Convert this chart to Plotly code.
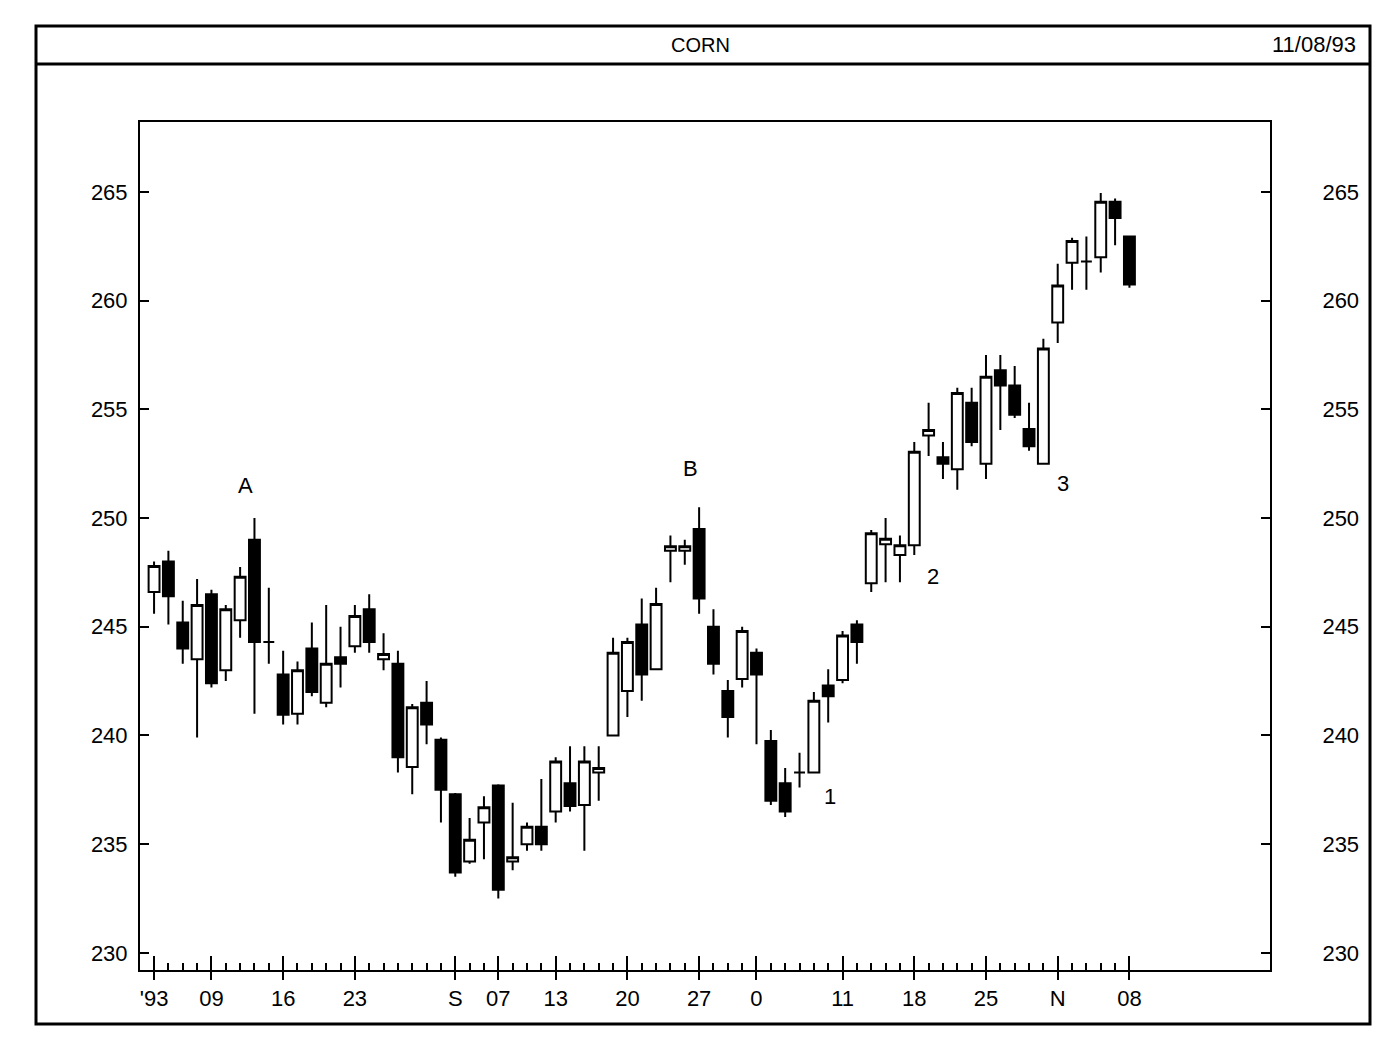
import plotly.graph_objects as go

# Trading-day index (0 = first session shown, 68 = 11/08/93)
day_index = list(range(69))

opens = [246.6, 248.0, 245.2, 243.5, 246.5, 243.0, 245.3, 249.0, 244.3, 242.8,
         241.0, 244.0, 241.5, 243.6, 244.1, 245.8, 243.5, 243.3, 238.55, 241.5,
         239.8, 237.3, 234.2, 236.0, 237.7, 234.2, 235.0, 235.8, 236.5, 237.8,
         236.8, 238.3, 240.0, 242.05, 245.1, 243.05, 248.5, 248.5, 249.5, 245.0,
         242.05, 242.6, 243.8, 239.75, 237.8, 238.3, 238.3, 242.3, 242.55, 245.1,
         247.0, 248.8, 248.3, 248.75, 253.8, 252.8, 252.25, 255.3, 252.5, 256.8,
         256.1, 254.1, 252.5, 259.0, 261.75, 261.8, 262.0, 264.55, 262.95]
highs = [248.0, 248.5, 246.2, 247.2, 246.7, 246.0, 247.75, 250.0, 246.8, 243.9,
         243.4, 245.2, 246.0, 245.0, 246.0, 246.5, 244.7, 243.9, 241.45, 242.5,
         239.9, 237.35, 236.2, 237.2, 237.75, 236.9, 236.0, 238.0, 239.0, 239.5,
         239.5, 239.5, 244.5, 244.5, 246.3, 246.8, 249.2, 249.0, 250.5, 245.8,
         242.55, 245.0, 244.0, 240.25, 238.5, 239.2, 242.0, 243.05, 244.8, 245.3,
         249.45, 250.0, 249.2, 253.5, 255.3, 253.5, 256.0, 256.0, 257.5, 257.5,
         257.0, 255.3, 258.25, 261.7, 262.9, 262.95, 264.95, 264.7, 263.0]
lows = [245.6, 245.1, 243.3, 239.9, 242.2, 242.5, 244.5, 241.0, 243.3, 240.5,
        240.5, 241.8, 241.3, 242.2, 243.8, 243.8, 243.0, 238.3, 237.3, 239.6,
        236.0, 233.5, 234.1, 234.3, 232.5, 233.8, 234.7, 234.7, 236.0, 236.5,
        234.7, 237.0, 239.95, 240.85, 241.6, 243.0, 247.05, 247.85, 245.6, 242.8,
        239.9, 242.2, 239.6, 236.8, 236.25, 237.6, 238.25, 240.6, 242.4, 243.3,
        246.6, 247.05, 247.05, 248.3, 252.85, 251.8, 251.3, 253.3, 251.8, 254.05,
        254.6, 253.1, 252.45, 258.05, 260.5, 260.5, 261.3, 262.55, 260.6]
closes = [247.8, 246.4, 244.0, 246.0, 242.4, 245.8, 247.3, 244.3, 244.3, 240.95,
          243.0, 242.0, 243.3, 243.3, 245.5, 244.3, 243.75, 239.0, 241.3, 240.5,
          237.5, 233.7, 235.2, 236.7, 232.9, 234.4, 235.8, 235.0, 238.8, 236.75,
          238.8, 238.5, 243.8, 244.3, 242.8, 246.05, 248.7, 248.7, 246.3, 243.3,
          240.85, 244.8, 242.8, 237.0, 236.5, 238.3, 241.6, 241.8, 244.6, 244.3,
          249.3, 249.05, 248.75, 253.05, 254.05, 252.5, 255.75, 253.5, 256.5, 256.1,
          254.75, 253.3, 257.8, 260.7, 262.75, 261.8, 264.55, 263.8, 260.75]

tick_days = [0, 4, 9, 14, 21, 24, 28, 33, 38, 42, 48, 53, 58, 63, 68]
tick_labels = ["'93", "09", "16", "23", "S", "07", "13", "20", "27", "0", "11", "18", "25", "N", "08"]
price_ticks = [230, 235, 240, 245, 250, 255, 260, 265]

marker_labels = ["A", "B", "1", "2", "3"]
marker_x = [6.35, 37.4, 47.1, 54.3, 63.4]
marker_y = [251.5, 252.3, 237.2, 247.3, 251.6]

FONT = "Liberation Sans, Arial, sans-serif"
FS = 22

fig = go.Figure()
fig.add_trace(go.Candlestick(
    x=day_index, open=opens, high=highs, low=lows, close=closes,
    increasing=dict(line=dict(color="black", width=2), fillcolor="white"),
    decreasing=dict(line=dict(color="black", width=2), fillcolor="black"),
    whiskerwidth=0, showlegend=False, hoverinfo="skip",
))
# invisible trace to activate the right-hand price axis and overlay tick axis
fig.add_trace(go.Scatter(x=[None], y=[None], yaxis="y2", xaxis="x2", showlegend=False))

for t, xx, yy in zip(marker_labels, marker_x, marker_y):
    fig.add_annotation(x=xx, y=yy, text=t, showarrow=False, yanchor="middle",
                       font=dict(family=FONT, size=FS, color="black"))

OFF = 8  # default page body margin
L, R, T, B = 140, 1270, 122, 970   # plot area in page pixels
W, H = 1399 - 2 * OFF, 1047 - 2 * OFF
pw, ph = R - L, B - T
def px(X): return (X - L) / pw
def py(Y): return (B - Y) / ph

fig.add_shape(type="rect", xref="paper", yref="paper",
              x0=px(36), x1=px(1370), y0=py(1024), y1=py(26),
              line=dict(color="black", width=3), layer="below")
fig.add_shape(type="line", xref="paper", yref="paper",
              x0=px(36), x1=px(1370), y0=py(64), y1=py(64),
              line=dict(color="black", width=3))
fig.add_annotation(xref="paper", yref="paper", x=px(700), y=py(45), text="CORN",
                   showarrow=False, yanchor="middle", xanchor="center",
                   font=dict(family=FONT, size=20, color="black"))
fig.add_annotation(xref="paper", yref="paper", x=px(1358), y=py(45), text="11/08/93",
                   xanchor="right", yanchor="middle", showarrow=False,
                   font=dict(family=FONT, size=FS, color="black"))

xr = [-0.98, 77.8]
yr = [229.21, 268.22]

fig.update_layout(
    width=W, height=H,
    margin=dict(l=L - OFF, r=W - (R - OFF), t=T - OFF, b=H - (B - OFF)),
    paper_bgcolor="white", plot_bgcolor="white",
    font=dict(family=FONT, size=FS, color="black"),
    boxgap=0.24, boxgroupgap=0,
    xaxis=dict(range=xr, rangeslider=dict(visible=False), showgrid=False, zeroline=False,
               showline=True, linecolor="black", linewidth=2, mirror=True,
               tickmode="array", tickvals=tick_days, ticktext=tick_labels,
               ticks="outside", ticklen=8, tickwidth=2, tickcolor="black",
               minor=dict(tickmode="array", tickvals=day_index, ticks="inside",
                          ticklen=7, tickwidth=1.5, tickcolor="black", showgrid=False),
               tickfont=dict(family=FONT, size=FS)),
    xaxis2=dict(range=xr, overlaying="x", showgrid=False, zeroline=False,
                tickmode="array", tickvals=tick_days, ticktext=[""] * len(tick_days),
                ticks="inside", ticklen=14, tickwidth=2, tickcolor="black",
                side="bottom", anchor="y", showticklabels=False),
    yaxis=dict(range=yr, showgrid=False, zeroline=False, showline=True, linecolor="black",
               linewidth=2, tickmode="array", tickvals=price_ticks,
               ticks="inside", ticklen=9, tickwidth=2, tickcolor="black",
               tickfont=dict(family=FONT, size=FS), ticklabelstandoff=6),
    yaxis2=dict(range=yr, overlaying="y", side="right", showgrid=False, zeroline=False,
                showline=True, linecolor="black", linewidth=2, anchor="x",
                tickmode="array", tickvals=price_ticks,
                ticks="inside", ticklen=9, tickwidth=2, tickcolor="black",
                tickfont=dict(family=FONT, size=FS), ticklabelstandoff=46),
)

fig.write_html("out.html")
